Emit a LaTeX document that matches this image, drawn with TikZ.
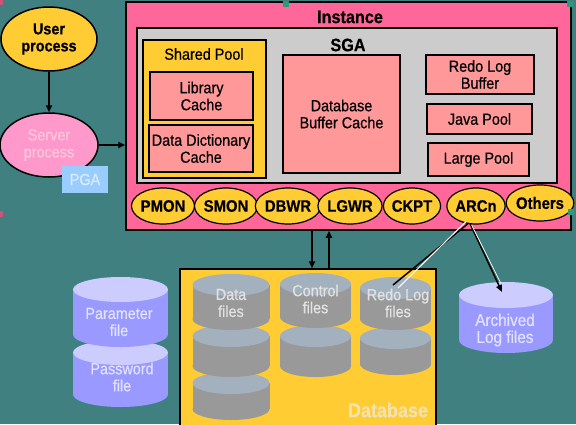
\documentclass[tikz,border=0pt]{standalone}
\usepackage{fontspec}
\setmainfont{Liberation Sans}[FakeStretch=0.9,FakeBold=0.5]
\usetikzlibrary{arrows.meta,shapes.geometric}
\definecolor{bg}{HTML}{408080}
\definecolor{instpink}{HTML}{FF6699}
\definecolor{sgagrey}{HTML}{CCCCCC}
\definecolor{gold}{HTML}{FFCC33}
\definecolor{salmon}{HTML}{FF9999}
\definecolor{srvpink}{HTML}{FF99CC}
\definecolor{srvtext}{HTML}{F8C8E0}
\definecolor{pgablue}{HTML}{99CCFF}
\definecolor{pgatext}{HTML}{DDEBFF}
\definecolor{greybody}{HTML}{999999}
\definecolor{greytop}{HTML}{A3B1BE}
\definecolor{greytext}{HTML}{E2E2E2}
\definecolor{bluebody}{HTML}{9999FF}
\definecolor{bluetop}{HTML}{CCCCFF}
\definecolor{bluetext}{HTML}{E2E2FF}
\definecolor{dbtext}{HTML}{F2E2B0}
\definecolor{handle}{HTML}{2E9A7A}
\newcommand\mycyl[6]{%
  \fill[#6body] (#1-#2,#3) rectangle (#1+#2,#4);
  \fill[#6body] (#1,#4) ellipse [x radius=#2, y radius=#5];
  \fill[#6top] (#1,#3) ellipse [x radius=#2, y radius=#5];}
\begin{document}
\begin{tikzpicture}[x=1pt,y=-1pt,
  font=\fontsize{16}{17}\selectfont,
  box/.style={draw=black, line width=1.5pt, inner sep=0pt, align=center},
  proc/.style={ellipse, draw=black, fill=gold, line width=1.2pt, inner sep=0pt,
    minimum width=56pt, minimum height=36pt, font=\bfseries\fontsize{16.5}{17}\selectfont},
  arr/.style={line width=2pt, -{Triangle[length=7pt,width=6pt]}},
  lbl/.style={inner sep=0pt, align=center}]
\useasboundingbox (0,0) rectangle (576,424);
\fill[bg] (0,0) rectangle (576,424);
% client side
\node[ellipse, draw=black, line width=1.5pt, fill=gold, minimum width=96pt, minimum height=64pt, inner sep=0pt, align=center, font=\bfseries\fontsize{16}{17}\selectfont] (user) at (49,39) {User\\process};
\node[ellipse, draw=black, line width=1.5pt, fill=srvpink, minimum width=98pt, minimum height=64pt, inner sep=0pt, align=center, text=srvtext] (server) at (49,145) {Server\\process};
\node[fill=pgablue, minimum width=46pt, minimum height=27pt, inner sep=0pt, text=pgatext] (pga) at (85,179.5) {PGA};
% instance
\node[box, fill=instpink, minimum width=445pt, minimum height=228pt] (inst) at (348.5,116) {};
\node[lbl, font=\bfseries\fontsize{18}{19}\selectfont] (instlbl) at (350,17) {Instance};
\node[box, fill=sgagrey, minimum width=420pt, minimum height=155pt] (sga) at (347,105.5) {};
\node[lbl, font=\bfseries\fontsize{18}{19}\selectfont] (sgalbl) at (348,45) {SGA};
\node[box, fill=gold, minimum width=123pt, minimum height=138pt] (shared) at (204.5,109) {};
\node[lbl] (sharedlbl) at (204,54) {Shared Pool};
\node[box, fill=salmon, minimum width=103pt, minimum height=48pt] (lib) at (201.5,96) {Library\\Cache};
\node[box, fill=salmon, minimum width=104pt, minimum height=47pt] (dd) at (201,148.5) {Data Dictionary\\Cache};
\node[box, fill=salmon, minimum width=117pt, minimum height=118pt] (dbbc) at (341.5,114) {Database\\Buffer Cache};
\node[box, fill=salmon, minimum width=108pt, minimum height=39pt] (rlb) at (480,74.5) {Redo Log\\Buffer};
\node[box, fill=salmon, minimum width=105pt, minimum height=30pt] (java) at (479.5,119) {Java Pool};
\node[box, fill=salmon, minimum width=101pt, minimum height=33pt] (large) at (478.5,159.5) {Large Pool};
% background processes
\node[proc] (pmon) at (163,206) {PMON};
\node[proc] (smon) at (226,206) {SMON};
\node[proc] (dbwr) at (288,206) {DBWR};
\node[proc] (lgwr) at (350,206) {LGWR};
\node[proc] (ckpt) at (412,206) {CKPT};
\node[proc] (arcn) at (476,206) {ARCn};
\node[proc] (others) at (540,203) {Others};
% database
\node[box, fill=gold, minimum width=256pt, minimum height=160pt] (db) at (308,349) {};
\node[lbl, text=dbtext, font=\bfseries\fontsize{20}{21}\selectfont] (dblbl) at (388,410) {Database};
% data files
\mycyl{231}{38.5}{383}{409}{11}{grey}
\mycyl{231}{38.5}{336}{366}{11}{grey}
\mycyl{231}{38.5}{285}{319}{11}{grey}
\node[lbl, text=greytext] (datafiles) at (231,303) {Data\\files};
% control files
\mycyl{315.5}{35.5}{336}{366}{11}{grey}
\mycyl{315.5}{35.5}{284}{317}{11}{grey}
\node[lbl, text=greytext] (ctlfiles) at (315.5,299) {Control\\files};
% redo log files
\mycyl{395.5}{35.5}{338}{364}{11}{grey}
\mycyl{395.5}{35.5}{288}{319}{11}{grey}
\node[lbl, text=greytext] (redofiles) at (398,303) {Redo Log\\files};
\coordinate (redotop) at (393,285);
% parameter / password
\mycyl{120.5}{47.5}{352.5}{394.5}{12.5}{blue}
\mycyl{120.5}{47.5}{289.5}{334.5}{12.5}{blue}
\node[lbl, text=bluetext] (param) at (119,322) {Parameter\\file};
\node[lbl, text=bluetext] (passwd) at (122,377) {Password\\file};
% archived
\mycyl{506}{47}{295}{340}{13}{blue}
\node[lbl, text=bluetext, font=\fontsize{17}{17}\selectfont] (arch) at (505,330) {Archived\\Log files};
\coordinate (archtop) at (502,292);
% connectors
\draw[arr] (user) -- (server);
\draw[arr] (server.east) -- (server.east -| inst.west);
\coordinate (dncol) at (312,0);
\coordinate (upcol) at (329,0);
\draw[arr] (dncol |- inst.south) -- (dncol |- db.north);
\draw[arr] (upcol |- db.north) -- (upcol |- inst.south);
\draw[line width=1.5pt] ([xshift=-8pt,yshift=1pt]arcn.south) -- (redotop);
\draw[white, line width=1pt] ([xshift=-10pt,yshift=3pt]arcn.south) -- ([shift={(5,3)}]redotop);
\draw[line width=1.5pt, -{Triangle[length=7pt,width=6pt]}] ([xshift=-6pt,yshift=1pt]arcn.south) -- (archtop);
\draw[white, line width=0.7pt] ([shift={(-4.4,0.4)}]arcn.south) -- ([shift={(-1.2,-8.8)}]archtop);
% selection handles
\fill[handle] (283,1) rectangle (289,7);
\fill[handle] (567,1) rectangle (573,7);
\fill[handle] (568,209) rectangle (574,215);
\fill[instpink!80!black] (0,0) rectangle (3,5);
\fill[instpink!80!black] (0,211) rectangle (3,217);
\end{tikzpicture}
\end{document}
